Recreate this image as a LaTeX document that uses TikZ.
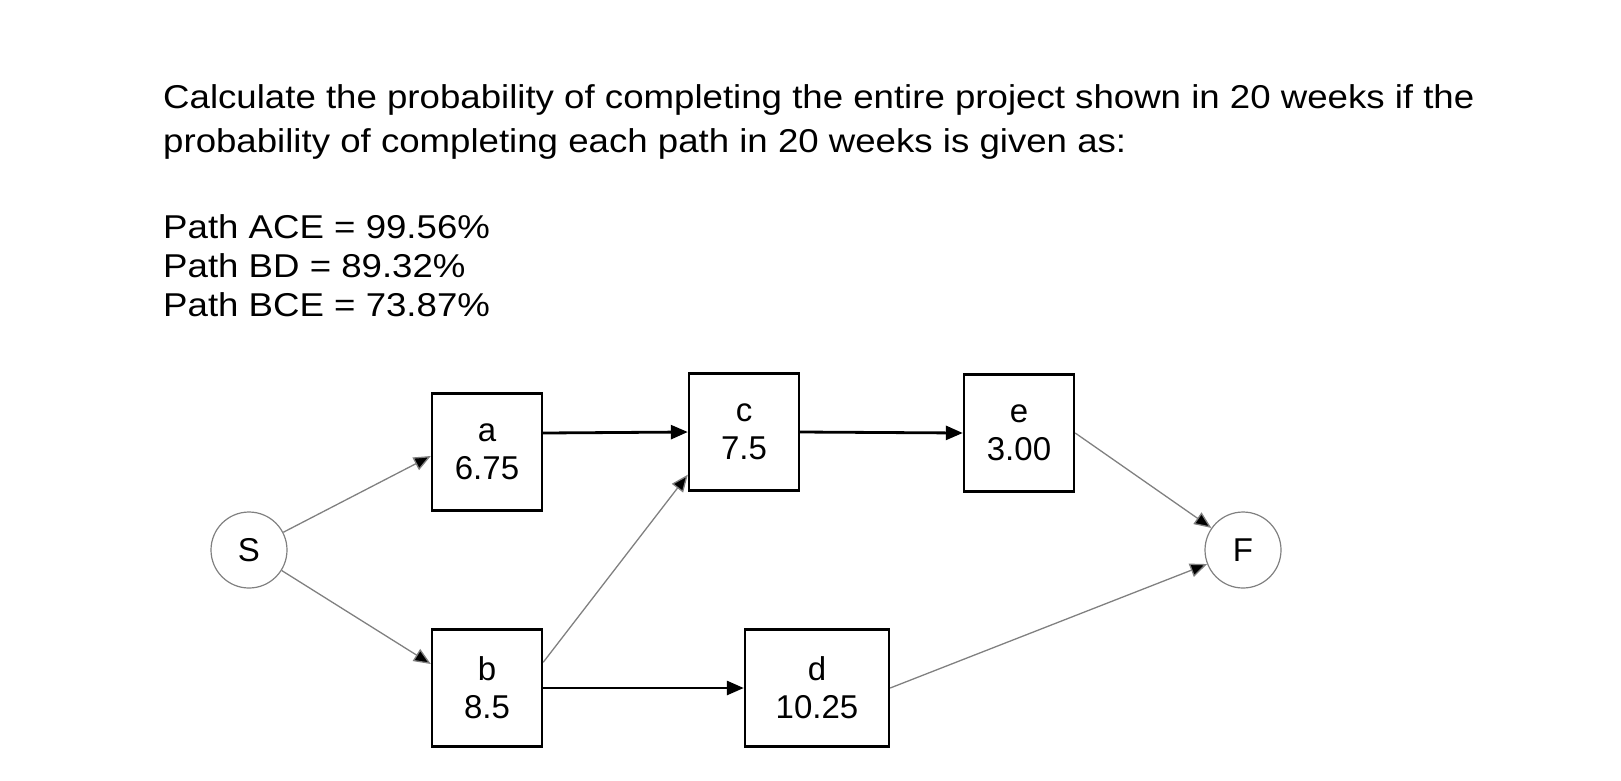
\documentclass[tikz,border=0pt]{standalone}
\usepackage{fontspec}
\setmainfont{Liberation Sans}
\newfontfamily\stretched[FakeStretch=1.11]{Liberation Sans}
\usetikzlibrary{arrows.meta}
\begin{document}
\begin{tikzpicture}[x=1pt,y=-1pt,
  txt/.style={anchor=base west,inner sep=0,font=\stretched\fontsize{33}{38}\selectfont},
  box/.style={draw,line width=2.4pt,minimum width=110pt,minimum height=117pt,align=center,font=\fontsize{33}{38}\selectfont,inner sep=0},
  circ/.style={draw=gray,circle,line width=1.2pt,minimum size=76pt,inner sep=0,font=\fontsize{33}{36}\selectfont},
  thick/.style={line width=2.8pt,-{Triangle[length=17pt,width=14pt]}},
  thin/.style={draw=gray,line width=1.3pt,-{Triangle[length=17pt,width=14pt,fill=black]}}]
\useasboundingbox (0,0) rectangle (1621,780);
\node[txt] (t1) at (163,108) {Calculate the probability of completing the entire project shown in 20 weeks if the};
\node[txt] (t2) at (163,152) {probability of completing each path in 20 weeks is given as:};
\node[txt] (t3) at (163,238) {Path ACE = 99.56\%};
\node[txt] (t4) at (163,277) {Path BD = 89.32\%};
\node[txt] (t5) at (163,316) {Path BCE = 73.87\%};
\node[box] (a) at (487,452) {a\\6.75};
\node[box] (c) at (744,432) {c\\7.5};
\node[box] (e) at (1019,433) {e\\3.00};
\node[box] (b) at (487,688) {b\\8.5};
\node[box,minimum width=144pt] (d) at (817,688) {d\\10.25};
\node[circ] (S) at (249,550) {S};
\node[circ] (F) at (1243,550) {F};
\draw[thin] (S) -- ([yshift=-4pt]a.west);
\draw[thin] (S) -- ([yshift=24pt]b.west);
\draw[thin] ([yshift=-34pt]b.north east) -- ([yshift=17pt]c.south west);
\draw[thick] ([yshift=19pt]a.east) -- (c.west);
\draw[thick] (c.east) -- (e.west);
\draw[thick] (b.east) -- (d.west);
\draw[thin] (e.east) -- (F);
\draw[thin] (d.east) -- (F);
\end{tikzpicture}
\end{document}
